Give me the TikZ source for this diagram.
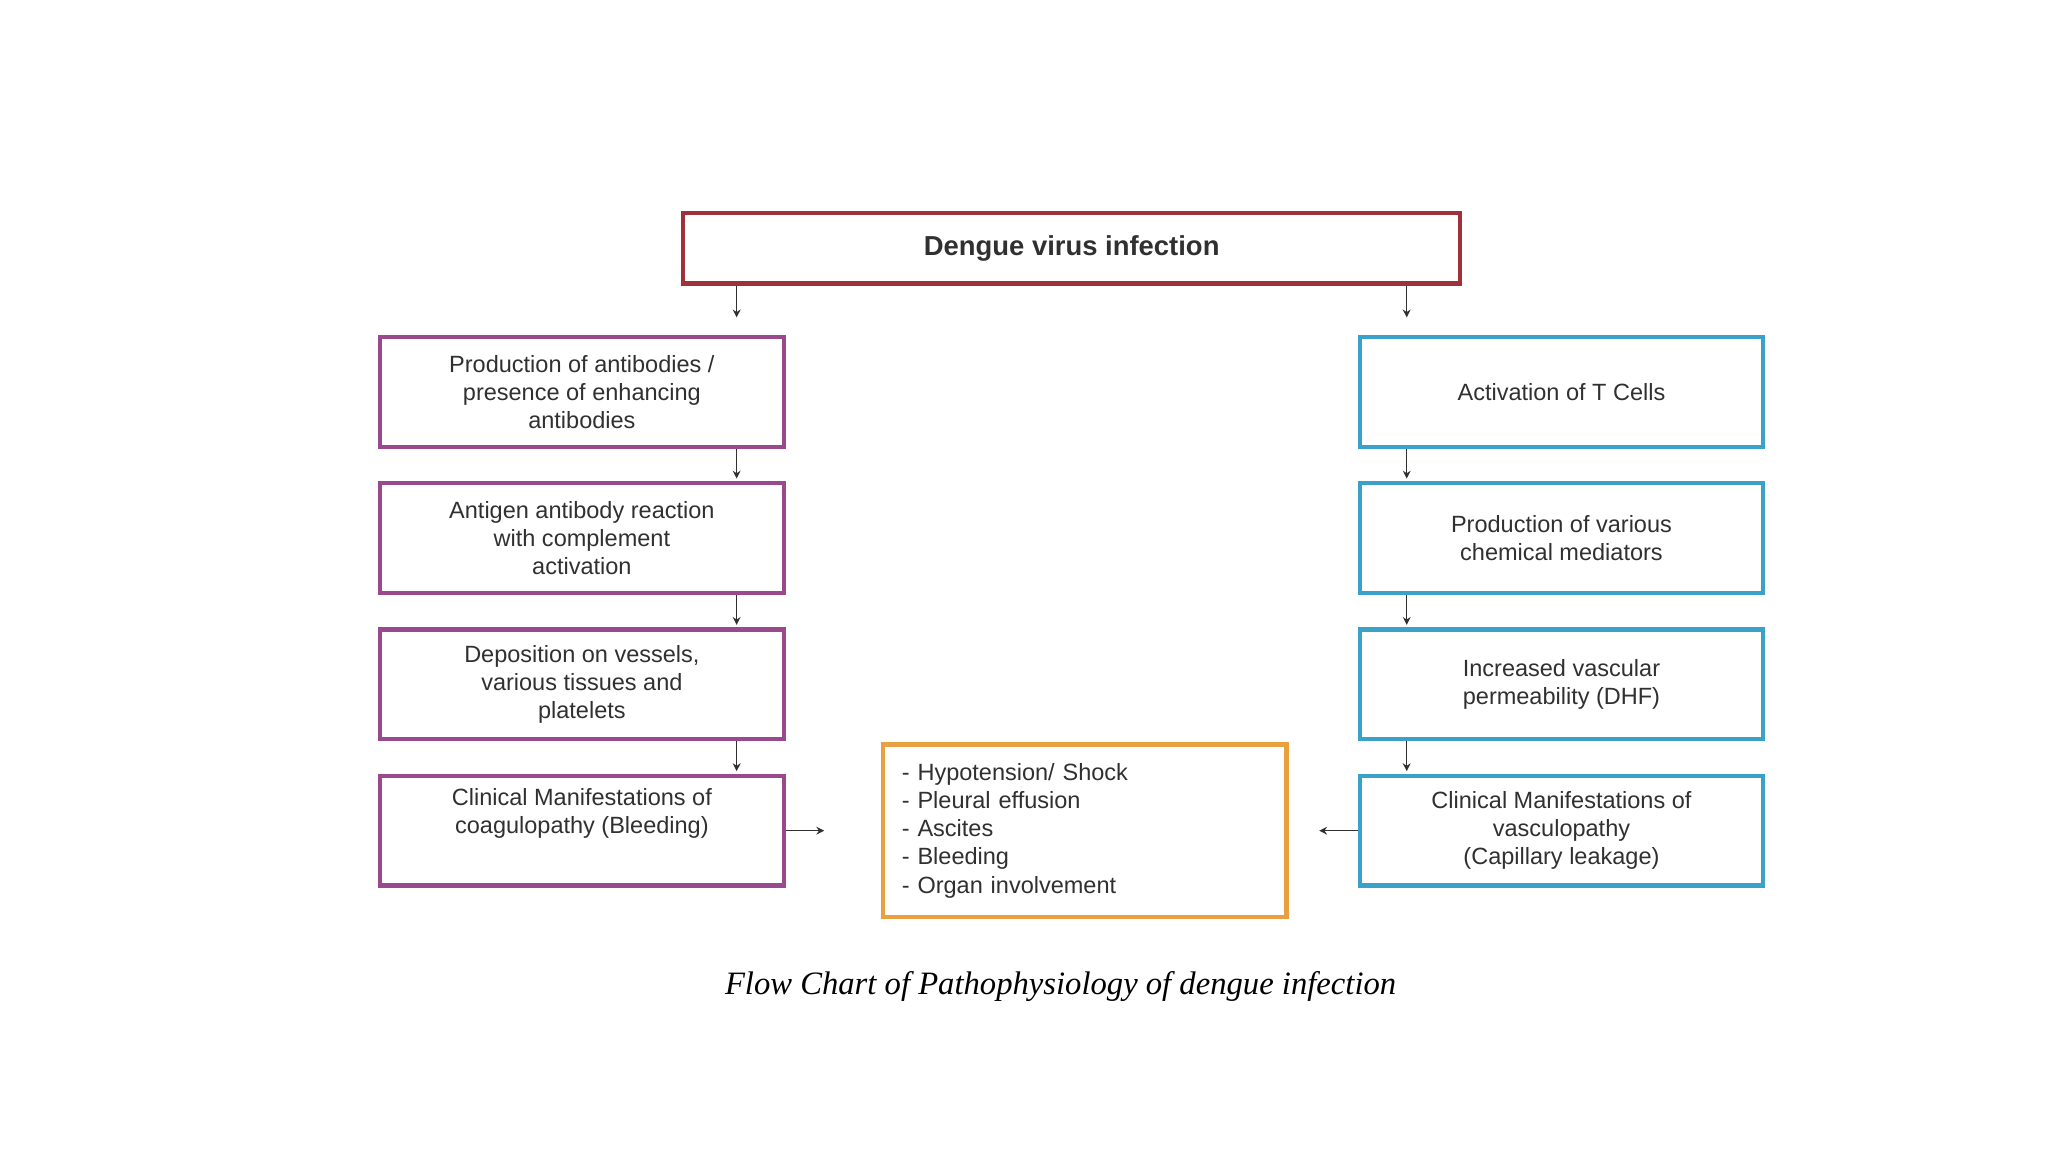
\documentclass[tikz,border=0pt]{standalone}
\usepackage{fontspec}
\setmainfont{Liberation Serif}
\newfontfamily\boxfont{Liberation Sans}
\usetikzlibrary{arrows.meta}
\definecolor{topc}{HTML}{A0303A}
\definecolor{leftc}{HTML}{9A4A8C}
\definecolor{rightc}{HTML}{3AA2C8}
\definecolor{midc}{HTML}{E8A040}
\definecolor{txt}{HTML}{303030}
\tikzset{
  bx/.style={draw, line width=1.6pt, minimum width=154.5pt, minimum height=42pt, align=center, inner sep=0pt, font=\boxfont\fontsize{9}{10.8}\selectfont, text=txt},
  lb/.style={bx, draw=leftc},
  rb/.style={bx, draw=rightc},
  ar/.style={-{Stealth[length=3pt,width=3pt]}, line width=0.6pt, draw=txt}
}
\begin{document}
\begin{tikzpicture}[x=0.5pt,y=-0.5pt]
\useasboundingbox (0,0) rectangle (1568,882);
\node[bx, draw=topc, minimum width=297.5pt, minimum height=27pt, font=\boxfont\bfseries\fontsize{10.5}{12}\selectfont] (top) at (820.5,190) {Dengue virus infection};
\node[lb] (l1) at (445.5,300) {Production of antibodies /\\presence of enhancing\\antibodies};
\node[lb] (l2) at (445.5,412) {Antigen antibody reaction\\with complement\\activation};
\node[lb] (l3) at (445.5,524) {Deposition on vessels,\\various tissues and\\platelets};
\node[lb] (l4) at (445.5,636) {Clinical Manifestations of\\coagulopathy (Bleeding)\\[4pt]};
\node[rb] (r1) at (1195.5,300) {Activation of T Cells};
\node[rb] (r2) at (1195.5,412) {Production of various\\chemical mediators};
\node[rb] (r3) at (1195.5,524) {Increased vascular\\permeability (DHF)};
\node[rb] (r4) at (1195.5,636) {Clinical Manifestations of\\vasculopathy\\(Capillary leakage)};
\node[bx, draw=midc, minimum height=66pt, align=left, text width=140pt] (mid) at (830.5,636) {- Hypotension/ Shock\\- Pleural effusion\\- Ascites\\- Bleeding\\- Organ involvement};
\coordinate (ta) at (564,243); \coordinate (tb) at (1077,243);
\draw[ar] (top.south -| ta) -- (ta);
\draw[ar] (top.south -| tb) -- (tb);
\foreach \a/\b in {l1/l2,l2/l3,l3/l4}{\draw[ar] (\a.south -| ta) -- ([yshift=1pt]\b.north -| ta);}
\foreach \a/\b in {r1/r2,r2/r3,r3/r4}{\draw[ar] (\a.south -| tb) -- ([yshift=1pt]\b.north -| tb);}
\coordinate (ml) at (631,636); \coordinate (mr) at (1010,636);
\draw[ar] (l4.east) -- (ml);
\draw[ar] (r4.west) -- (mr);
\node[font=\itshape\fontsize{12.5}{14}\selectfont] (cap) at (812,755) {Flow Chart of Pathophysiology of dengue infection};
\end{tikzpicture}
\end{document}
